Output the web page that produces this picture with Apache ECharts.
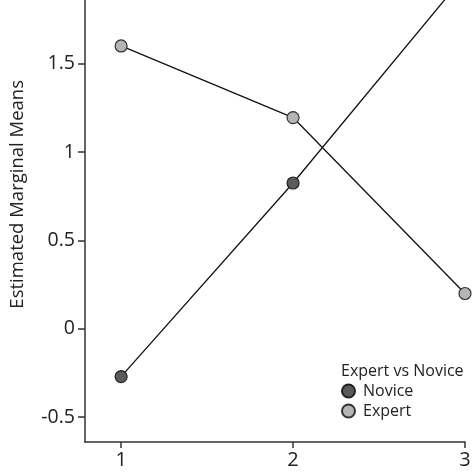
<!DOCTYPE html>
<html>
<head>
<meta charset="utf-8">
<script src="https://cdn.jsdelivr.net/npm/echarts@6/dist/echarts.min.js"></script>
<style>
html, body { margin: 0; padding: 0; background: #fff; }
#main { width: 474px; height: 474px; }
</style>
</head>
<body>
<div id="main"></div>
<script>
// data
var levels = [1, 2, 3];
var novice = [-0.27, 0.825, 2.0];
var expert = [1.6, 1.195, 0.2];
var yTicks = [-0.5, 0, 0.5, 1, 1.5];

function pairs(vals) {
    var out = [];
    for (var i = 0; i < levels.length; i++) {
        out.push([levels[i], vals[i]]);
    }
    return out;
}

var fontName = 'Open Sans';
var myChart = echarts.init(document.getElementById('main'));

var option = {
    animation: false,
    backgroundColor: '#fff',
    textStyle: { fontFamily: fontName },
    grid: { left: 85, right: 9, top: 0, bottom: 32 },
    title: {
        text: 'Expert vs Novice',
        left: 341,
        top: 363,
        padding: 0,
        textStyle: { fontFamily: fontName, fontSize: 16, fontWeight: 'normal', color: '#222' }
    },
    legend: {
        orient: 'vertical',
        left: 341,
        top: 383,
        padding: 0,
        itemGap: 4,
        itemWidth: 13,
        itemHeight: 13,
        icon: 'circle',
        textStyle: { fontFamily: fontName, fontSize: 16, color: '#222', padding: [0, 0, 0, 3] },
        data: ['Novice', 'Expert']
    },
    graphic: [{
        type: 'text',
        left: 8,
        top: 80,
        rotation: Math.PI / 2,
        style: {
            text: 'Estimated Marginal Means',
            fontFamily: fontName,
            fontSize: 18.5,
            fill: '#222'
        }
    }],
    xAxis: {
        type: 'value',
        min: 0.79,
        max: 3,
        splitLine: { show: false },
        axisLine: { onZero: false, lineStyle: { color: '#333', width: 1.5 } },
        axisTick: { customValues: levels, length: 6, lineStyle: { color: '#333', width: 1.5 } },
        axisLabel: { customValues: levels, margin: 8, fontSize: 20, color: '#222' }
    },
    yAxis: {
        type: 'value',
        min: -0.64,
        max: 1.86,
        splitLine: { show: false },
        axisLine: { show: true, lineStyle: { color: '#333', width: 1.5 } },
        axisTick: { show: true, customValues: yTicks, length: 7, lineStyle: { color: '#333', width: 1.5 } },
        axisLabel: { customValues: yTicks, margin: 10, fontSize: 19.5, color: '#222' }
    },
    series: [
        {
            name: 'Novice',
            type: 'line',
            data: pairs(novice),
            symbol: 'circle',
            symbolSize: 12,
            clip: true,
            lineStyle: { color: '#111', width: 1.3 },
            itemStyle: { color: '#5a5a5a', borderColor: '#222', borderWidth: 1.2 }
        },
        {
            name: 'Expert',
            type: 'line',
            data: pairs(expert),
            symbol: 'circle',
            symbolSize: 12,
            clip: true,
            lineStyle: { color: '#111', width: 1.3 },
            itemStyle: { color: '#b5b5b5', borderColor: '#333', borderWidth: 1.2 }
        }
    ]
};
myChart.setOption(option);

window.addEventListener('resize', function () {
    myChart.resize();
});
</script>
</body>
</html>
